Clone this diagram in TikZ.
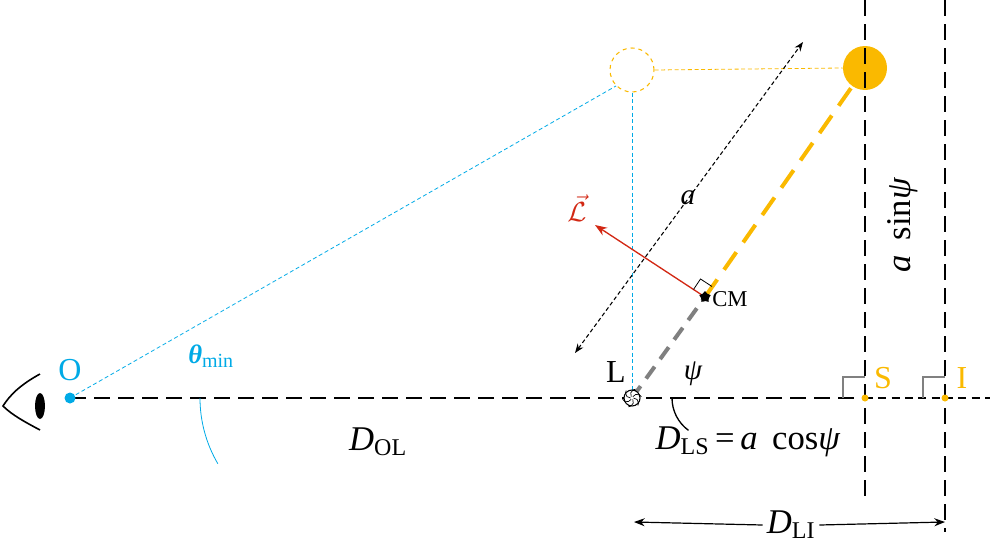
\documentclass[tikz,border=0pt]{standalone}
\usepackage{fontspec}
\setmainfont{Liberation Serif}
\usetikzlibrary{arrows.meta,shapes.misc,shapes.geometric}
\definecolor{sky}{RGB}{0,170,230}
\definecolor{gold}{RGB}{250,185,0}
\definecolor{redv}{RGB}{210,40,20}
\tikzset{
 axis/.style={black,line width=1.6pt,dash pattern=on 12pt off 6pt},
 thin/.style={line width=0.6pt,dash pattern=on 3pt off 2pt},
 lbl/.style={font=\fontsize{20}{22}\selectfont,inner sep=0pt},
}
\begin{document}
\begin{tikzpicture}[x=0.75pt,y=-0.75pt]
\useasboundingbox (0,0) rectangle (991,546);
\coordinate (O) at (70,398);
\coordinate (L) at (632,398);
\coordinate (CM) at (705,297);
\node[circle,minimum size=44*0.75pt,draw=gold,thick,dashed,inner sep=0] (G) at (632,70) {};
\node[circle,minimum size=44*0.75pt,fill=gold,inner sep=0] (Sun) at (865,68) {};
\coordinate (S) at (865,398);
\coordinate (I) at (945,398);
\coordinate (End) at (990,398);
% verticals
\draw[axis] (865,0) -- (865,502);
\draw[axis] (945,0) -- (945,532);
% axis
\draw[axis] (O) -- (S);
\draw[black,line width=1.2pt,dash pattern=on 6pt off 4pt] (S) -- (End);
% orange thin
\draw[gold,thin] (G.east) -- (Sun.west);
% blue
\draw[sky,thin] (O) -- (G.south west);
\draw[sky,thin] (G.south) -- (L);
% lens line
\draw[gray,line width=3pt,dash pattern=on 11pt off 7pt] (L) -- (CM);
\draw[gold,line width=3pt,dash pattern=on 16pt off 9pt] (CM) -- (Sun);
% a arrow
\coordinate (A1) at (575,353); \coordinate (A2) at (803,42);
\draw[thin,{Stealth[length=7pt]}-{Stealth[length=7pt]},line width=0.8pt] (A1) -- (A2);
\node[lbl,font=\fontsize{22}{24}\selectfont\itshape] (la) at (688,198) {a};
% red L vector
\coordinate (Lv) at (595,225);
\draw[redv,line width=1pt,-{Stealth[length=9pt]}] (CM) -- (Lv);
\node[lbl,text=redv] (lL) at (577,208) {$\vec{\mathcal{L}}$};
% right angle at CM
\draw[line width=0.6pt] (CM) ++(-11.5,-7.5) -- ++(7,-10.5) -- ++(11.5,7.5);
\node[star,star points=5,fill=black,inner sep=0,minimum size=9pt] (st) at (CM) {};
\node[lbl,anchor=west] (cml) at (712,299) {\fontsize{17}{19}\selectfont CM};
% psi arc
\draw[line width=1pt] (672,398) arc (0:-54:-40);
\node[lbl,font=\fontsize{22}{24}\selectfont\itshape] (psi) at (693,374) {ψ};
% theta arc
\draw[sky,line width=0.6pt] (200,398) arc (0:-30.4:-130);
\node[lbl,text=sky,anchor=west] (th) at (188,356) {\textbf{\textit{θ}}\textsubscript{\fontsize{15}{16}\selectfont min}};
% right angles at S, I
\draw[gray,line width=0.8pt] (843,398) -- (843,377) -- (865,377);
\draw[gray,line width=0.8pt] (923,398) -- (923,377) -- (945,377);
\fill[gold] (S) circle (3.5); \fill[gold] (I) circle (3.5);
\node[lbl,text=gold,font=\fontsize{24}{26}\selectfont] (Sl) at (883,378) {S};
\node[lbl,text=gold,font=\fontsize{24}{26}\selectfont] (Il) at (962,378) {I};
\node[lbl,font=\fontsize{24}{26}\selectfont] (Ll) at (616,372) {L};
\node[lbl,text=sky,font=\fontsize{24}{26}\selectfont] (Ol) at (70,370) {O};
\fill[sky] (O) circle (5.5);
% lens symbol
\node[circle,draw,fill=white,line width=0.8pt,minimum size=16*0.75pt,inner sep=0] (lens) at (L) {};
\foreach \ang in {0,60,...,300}{\draw[line width=0.5pt] (L) ++(\ang:1.5) arc (\ang-90:\ang+30:5);}
% eye
\draw[line width=1.2pt] (40,374) .. controls (20,385) and (10,395) .. (3,406) .. controls (12,415) and (25,422) .. (40,430);
\fill (40,406) ellipse (5 and 13);
% labels
\node[lbl,font=\fontsize{26}{28}\selectfont] (dol) at (378,442) {\textit{D}\textsubscript{\fontsize{18}{20}\selectfont OL}};
\node[lbl,font=\fontsize{26}{28}\selectfont] (dls) at (748,442) {\textit{D}\textsubscript{\fontsize{18}{20}\selectfont LS}\,=\,\textit{a}\, cos\textit{ψ}};
\node[lbl,font=\fontsize{26}{28}\selectfont,rotate=90] (asin) at (903,225) {\textit{a}\, sin\textit{ψ}};
\coordinate (B1) at (634,522); \coordinate (B2) at (945,522);
\node[lbl,font=\fontsize{26}{28}\selectfont,fill=white,inner xsep=3pt] (dli) at (791,525) {\textit{D}\textsubscript{\fontsize{18}{20}\selectfont LI}};
\draw[line width=0.9pt,-{Stealth[length=8pt]}] (dli.west) -- (B1);
\draw[line width=0.9pt,-{Stealth[length=8pt]}] (dli.east) -- (B2);
\end{tikzpicture}
\end{document}
